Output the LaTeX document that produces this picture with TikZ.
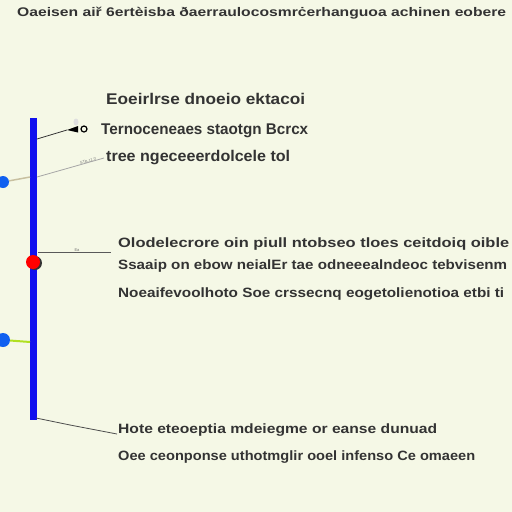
\documentclass[tikz,border=0pt]{standalone}
\usepackage{fontspec}
\setmainfont{Liberation Sans}
\usetikzlibrary{arrows.meta,shapes.geometric}
\definecolor{bg}{HTML}{F5F8E6}
\definecolor{ink}{HTML}{333333}
\definecolor{barblue}{HTML}{1010EE}
\definecolor{dotblue}{HTML}{1060F0}
\definecolor{leaf}{HTML}{B0E020}
\definecolor{tan}{HTML}{C8C0A0}
\newcommand{\fitw}[2]{\resizebox{#1}{\height}{#2}}
\begin{document}
\begin{tikzpicture}[x=1pt,y=-1pt,
  txt/.style={anchor=base west, inner sep=0pt, text=ink},
  ttl/.style={txt, font=\fontsize{12.5}{14}\selectfont\bfseries},
  big/.style={txt, font=\fontsize{15.5}{18}\selectfont\bfseries},
  mid/.style={txt, font=\fontsize{13.5}{16}\selectfont\bfseries},
  conn/.style={draw=gray!80!black, line width=0.8pt},
  tiny/.style={inner sep=0pt, text=gray, font=\fontsize{4}{4}\selectfont}]
\fill[bg] (0,0) rectangle (512,512);
\useasboundingbox (0,0) rectangle (512,512);

% title
\node[ttl] (title) at (17,16.5) {\fitw{489pt}{Oaeisen aiř 6ertèisba ðaerraulocosmrċerhanguoa achinen eobere}};

% block 1
\node[big] (b1a) at (106,104) {\fitw{199pt}{Eoeirlrse dnoeio ektacoi}};
\node[big] (b1b) at (101,134) {\fitw{207pt}{Ternoceneaes staotgn Bcrcx}};
\node[big] (b1c) at (106,161) {\fitw{184pt}{tree ngeceeerdolcele tol}};

% block 2
\node[mid] (b2a) at (118,247) {\fitw{391pt}{Olodelecrore oin piull ntobseo tloes ceitdoiq oible}};
\node[mid] (b2b) at (118,269) {\fitw{389pt}{Ssaaip on ebow neialEr tae odneeealndeoc tebvisenm}};
\node[mid] (b2c) at (118,297) {\fitw{386pt}{Noeaifevoolhoto Soe crssecnq eogetolienotioa etbi ti}};

% block 3
\node[mid] (b3a) at (118,433) {\fitw{319pt}{Hote eteoeptia mdeiegme or eanse dunuad}};
\node[mid] (b3b) at (118,460) {\fitw{357pt}{Oee ceonponse uthotmglir ooel infenso Ce omaeen}};

% vertical bar
\node[fill=barblue, minimum width=7pt, minimum height=302pt, inner sep=0pt, anchor=north] (bar) at (33.5,118) {};

% connector 1 with plug
\coordinate (c1a) at (37,139);
\coordinate (c1b) at (67,130);
\draw[conn, draw=ink] (c1a) -- (c1b);
\fill[black] (c1b) -- (78,126) -- (78,132.5) -- cycle;
\node[circle, draw=black, line width=1.2pt, minimum size=6pt, inner sep=0pt] (ring) at (84,129) {};
\node[ellipse, fill=gray!25, minimum width=5pt, minimum height=7pt, inner sep=0pt] (blob) at (76,122) {};

% connector 2
\coordinate (c2a) at (37,177);
\coordinate (c2b) at (104,158);
\draw[conn, draw=gray!70] (c2a) -- (c2b);
\node[tiny, rotate=15] (c2l) at (88,161) {STB.11.0};
\node[circle, fill=dotblue, minimum size=12pt, inner sep=0pt] (bdot1) at (3,182) {};
\coordinate (c2c) at (30,177);
\draw[tan, line width=1.5pt] (bdot1) -- (c2c);

% connector 3 (red dot)
\coordinate (c3a) at (38,252);
\coordinate (c3b) at (111,252);
\draw[conn, draw=gray!70!black] (c3a) -- (c3b);
\node[tiny, text=ink!70] (c3l) at (77,250.5) {Ea};
\fill[black!80] (35,263) circle (7pt);
\node[circle, fill=red, minimum size=14pt, inner sep=0pt] (rdot) at (33,262) {};

% green connector
\node[circle, fill=dotblue, minimum size=14pt, inner sep=0pt] (bdot2) at (3,340) {};
\coordinate (c4a) at (30,342);
\draw[leaf, line width=2pt] (bdot2) -- (c4a);

% bottom connector
\coordinate (c5a) at (36,418);
\coordinate (c5m) at (70,425);
\coordinate (c5b) at (117,434);
\draw[conn, draw=gray!60!black] (c5a) -- (c5m) -- (c5b);
\end{tikzpicture}
\end{document}
